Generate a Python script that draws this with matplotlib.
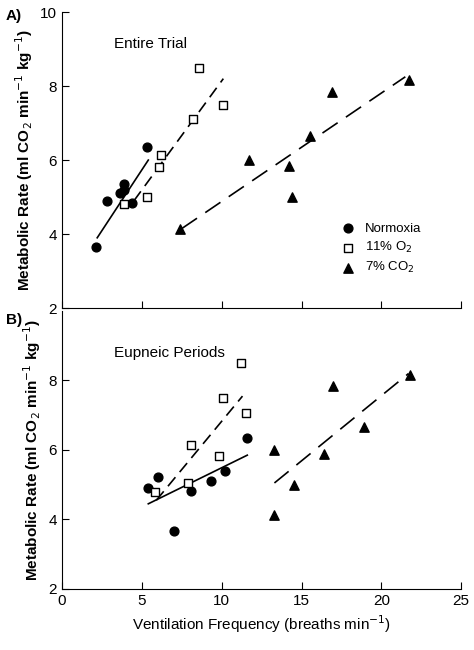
import matplotlib
matplotlib.use("Agg")
import matplotlib.pyplot as plt

plt.rcParams['font.family'] = ['Liberation Sans', 'DejaVu Sans']

# Entire trial
a_norm_x = [2.1, 2.8, 3.6, 3.9, 3.9, 4.4, 5.3]
a_norm_y = [3.65, 4.9, 5.1, 5.2, 5.35, 4.85, 6.35]
a_o2_x = [3.9, 5.3, 6.1, 6.2, 8.2, 8.6, 10.1]
a_o2_y = [4.8, 5.0, 5.8, 6.15, 7.1, 8.5, 7.5]
a_co2_x = [7.4, 11.7, 14.2, 14.4, 15.5, 16.9, 21.7]
a_co2_y = [4.15, 6.0, 5.85, 5.0, 6.65, 7.85, 8.15]
a_norm_fit = ([2.2, 5.4], [3.9, 6.0])
a_o2_fit = ([4.5, 10.1], [4.9, 8.2])
a_co2_fit = ([7.5, 21.5], [4.15, 8.25])

# Eupneic periods
b_norm_x = [5.4, 6.0, 7.0, 8.1, 9.3, 10.2, 11.6]
b_norm_y = [4.9, 5.22, 3.67, 4.82, 5.1, 5.4, 6.35]
b_o2_x = [5.8, 7.9, 8.1, 9.8, 10.1, 11.2, 11.5]
b_o2_y = [4.8, 5.04, 6.14, 5.83, 7.5, 8.5, 7.07]
b_co2_x = [13.3, 13.3, 14.5, 16.4, 17.0, 18.9, 21.8]
b_co2_y = [6.0, 4.13, 5.0, 5.87, 7.85, 6.65, 8.17]
b_norm_fit = ([5.4, 11.6], [4.45, 5.85])
b_o2_fit = ([5.9, 11.3], [4.55, 7.55])
b_co2_fit = ([13.3, 21.7], [5.05, 8.2])

fig = plt.figure(figsize=(4.74, 6.5), dpi=100)
ax1 = fig.add_axes([0.131, 0.526, 0.842, 0.4555])
ax2 = fig.add_axes([0.131, 0.094, 0.842, 0.4275])

ylab = 'Metabolic Rate (ml CO$_2$ min$^{-1}$ kg$^{-1}$)'
panels = [
    (ax1, a_norm_x, a_norm_y, a_o2_x, a_o2_y, a_co2_x, a_co2_y, a_norm_fit, a_o2_fit, a_co2_fit, 'Entire Trial', 'A)'),
    (ax2, b_norm_x, b_norm_y, b_o2_x, b_o2_y, b_co2_x, b_co2_y, b_norm_fit, b_o2_fit, b_co2_fit, 'Eupneic Periods', 'B)'),
]
for ax, nx, ny, ox, oy, cx, cy, nf, of, cf, title, lab in panels:
    ax.plot(*nf, color='black', lw=1.2)
    ax.plot(*of, color='black', lw=1.2, dashes=(7, 4))
    ax.plot(*cf, color='black', lw=1.2, dashes=(11, 6))
    ax.scatter(nx, ny, marker='o', s=40, color='black', label='Normoxia', zorder=3)
    ax.scatter(ox, oy, marker='s', s=40, facecolor='white', edgecolor='black', linewidths=1, label='11% O$_2$', zorder=3)
    ax.scatter(cx, cy, marker='^', s=45, color='black', label='7% CO$_2$', zorder=3)
    ax.set_xlim(0, 25)
    ax.set_ylim(2, 10)
    ax.set_xticks([0, 5, 10, 15, 20, 25])
    ax.tick_params(direction='in', labelsize=11, length=5)
    ax.spines['top'].set_visible(False)
    ax.spines['right'].set_visible(False)
    ax.set_ylabel(ylab, fontsize=11, fontweight='bold')
    ax.text(0.13, 0.88 if lab == 'A)' else 0.835, title, transform=ax.transAxes, fontsize=11)

ax1.set_yticks([2, 4, 6, 8, 10])
ax2.set_yticks([2, 4, 6, 8])
ax1.tick_params(labelbottom=False)
fig.text(0.012, 0.975, 'A)', fontsize=11, fontweight='bold', ha='left', va='center')
fig.text(0.012, 0.508, 'B)', fontsize=11, fontweight='bold', ha='left', va='center')
ax1.legend(loc='lower right', bbox_to_anchor=(0.93, 0.07), frameon=False, fontsize=9.5,
           handletextpad=0.3, labelspacing=0.4)
ax2.set_xlabel('Ventilation Frequency (breaths min$^{-1}$)', fontsize=11)
fig.savefig('out.png', dpi=100)
